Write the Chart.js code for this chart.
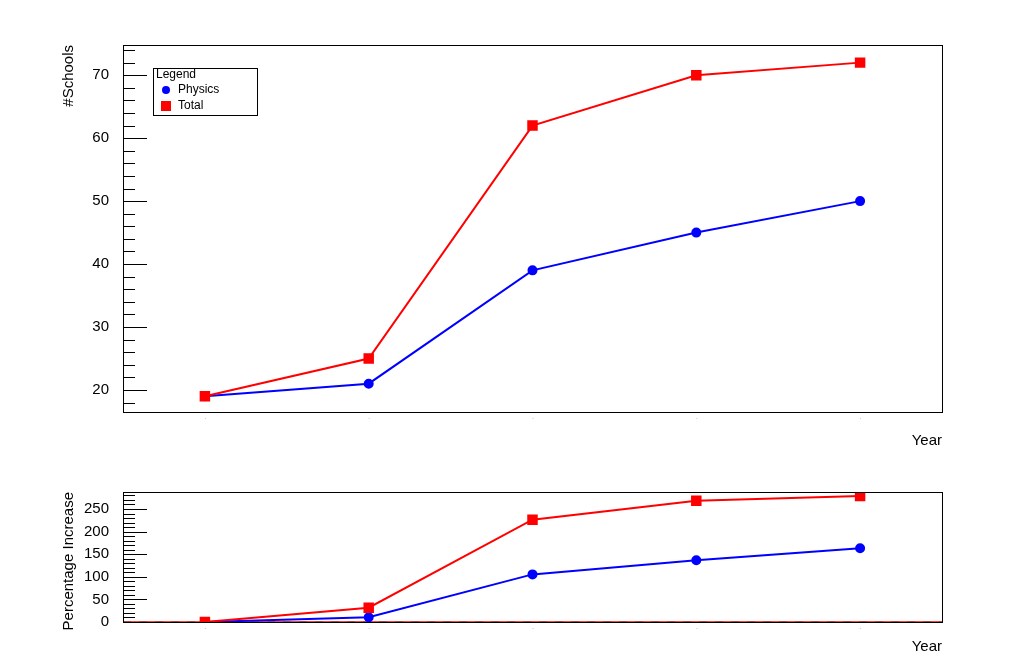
<!DOCTYPE html>
<html>
<head>
<meta charset="utf-8">
<script src="https://cdn.jsdelivr.net/npm/chart.js@4"></script>
<style>
  body { margin: 0; background: #fff; }
  #wrap { position: relative; width: 1024px; height: 656px; }
  canvas { position: absolute; left: 0; }
</style>
</head>
<body>
<div id="wrap">
  <canvas id="top" style="top:0" width="1024" height="450"></canvas>
  <canvas id="bot" style="top:450px" width="1024" height="206"></canvas>
</div>
<script>
const years = [1, 2, 3, 4, 5];
const physics = [19, 21, 39, 45, 50];
const total = [19, 25, 62, 70, 72];
const physicsPct = [0, 10.5, 105.3, 136.8, 163.2];
const totalPct = [0, 31.6, 226.3, 268.4, 278.9];
const zeroLine = [0, 0, 0, 0, 0, 0];
const FONT = '"Liberation Sans", Arial, sans-serif';

function pts(xs, ys) { return xs.map((x, i) => ({ x: x, y: ys[i] })); }

// frame + inside ticks, ROOT-like
const frame = {
    id: 'frame',
    afterDraw(chart, args, o) {
        const c = chart.ctx, a = chart.chartArea, y = chart.scales.y, x = chart.scales.x;
        c.save();
        c.strokeStyle = '#000';
        c.lineWidth = 1;
        c.strokeRect(a.left + 0.5, a.top + 0.5, a.right - a.left, a.bottom - a.top);
        for (let v = Math.ceil(y.min / o.minor) * o.minor; v <= y.max; v += o.minor) {
            const p = Math.round(y.getPixelForValue(v)) + 0.5;
            const major = Math.abs(v / o.major - Math.round(v / o.major)) < 1e-6;
            c.beginPath();
            c.moveTo(a.left, p);
            c.lineTo(a.left + (major ? 24 : 12), p);
            c.stroke();
        }
        c.strokeStyle = '#ccc';
        years.forEach(v => {
            const p = x.getPixelForValue(v);
            c.beginPath();
            c.moveTo(p, a.bottom + 7);
            c.lineTo(p + 1, a.bottom + 6);
            c.stroke();
        });
        c.restore();
    }
};

const legendBox = {
    id: 'legendBox',
    afterDraw(chart) {
        const c = chart.ctx;
        c.save();
        c.fillStyle = '#fff';
        c.fillRect(153, 68, 104, 47);
        c.strokeStyle = '#000';
        c.lineWidth = 1;
        c.strokeRect(153.5, 68.5, 104, 47);
        c.fillStyle = '#000';
        c.font = '12px ' + FONT;
        c.textBaseline = 'middle';
        c.fillText('Legend', 156, 75);
        chart.data.datasets.forEach((ds, i) => {
            const yy = 90 + i * 16;
            c.fillStyle = ds.pointBackgroundColor;
            if (ds.pointStyle === 'rect') c.fillRect(161, yy - 5, 10, 10);
            else { c.beginPath(); c.arc(166, yy, 4, 0, Math.PI * 2); c.fill(); }
            c.fillStyle = '#000';
            c.fillText(ds.label, 178, yy);
        });
        c.restore();
    }
};

function makeOptions(ymin, ymax, ytitle, major, minor, pad, xh) {
    return {
        responsive: false,
        animation: false,
        layout: { padding: pad },
        plugins: { legend: { display: false }, tooltip: { enabled: false }, frame: { major: major, minor: minor } },
        scales: {
            x: {
                type: 'linear', min: 0.5, max: 5.5,
                grid: { display: false }, border: { display: false },
                ticks: { display: false },
                title: { display: true, text: 'Year', align: 'end', color: '#000', font: { size: 15, family: FONT }, padding: { top: xh - 20, bottom: 0 } },
                afterFit(s) { s.height = xh; }
            },
            y: {
                min: ymin, max: ymax,
                grid: { display: false }, border: { display: false },
                ticks: { stepSize: major, color: '#000', font: { size: 15, family: FONT }, padding: 6 },
                afterBuildTicks(s) {
                    s.ticks = s.ticks.filter(t => Math.abs(t.value / major - Math.round(t.value / major)) < 1e-6);
                },
                title: { display: true, text: ytitle, align: 'end', color: '#000', font: { size: 15, family: FONT }, padding: { top: 0, bottom: 4 } },
                afterFit(s) { s.width = 123 - pad.left; }
            }
        }
    };
}

function series(label, data, color, style, r, order) {
    return {
        label: label, data: data, borderColor: color, backgroundColor: color,
        pointBackgroundColor: color, pointBorderColor: color,
        pointStyle: style, pointRadius: r, borderWidth: 2, tension: 0, order: order
    };
}

new Chart(document.getElementById('top'), {
    type: 'line',
    data: {
        datasets: [
            series('Physics', pts(years, physics), '#0000ff', 'circle', 4, 2),
            series('Total', pts(years, total), '#ff0000', 'rect', 6, 1)
        ]
    },
    options: makeOptions(16.5, 74.8, '#Schools', 10, 2, { left: 60, right: 82, top: 45, bottom: 0 }, 38),
    plugins: [frame, legendBox]
});

new Chart(document.getElementById('bot'), {
    type: 'line',
    data: {
        datasets: [
            { label: 'zero', data: pts([0.5, 1, 2, 3, 4, 5.5], zeroLine), borderColor: '#ff0000', borderWidth: 1.5, pointRadius: 0, order: 4 },
            { label: 'zero2', data: pts([0.5, 1, 2, 3, 4, 5.5], zeroLine), borderColor: 'rgba(60,60,60,0.8)', borderWidth: 1, borderDash: [8, 8], pointRadius: 0, order: 3 },
            series('Physics', pts(years, physicsPct), '#0000ff', 'circle', 4, 2),
            series('Total', pts(years, totalPct), '#ff0000', 'rect', 6, 1)
        ]
    },
    options: makeOptions(0, 287.6, 'Percentage Increase', 50, 10, { left: 60, right: 82, top: 42, bottom: 0 }, 34),
    plugins: [frame]
});
</script>
</body>
</html>
